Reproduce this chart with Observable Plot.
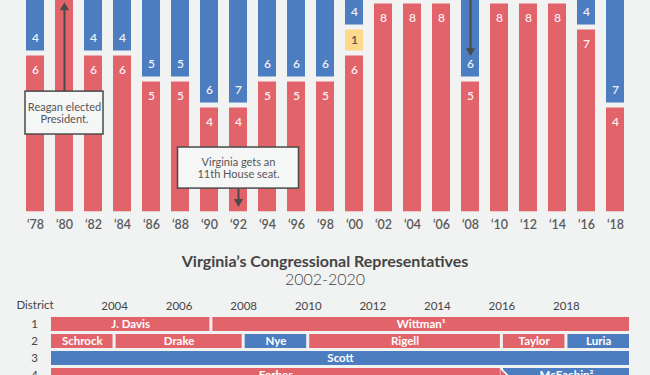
<!DOCTYPE html>
<html><head><meta charset="utf-8">
<script src="https://cdn.jsdelivr.net/npm/d3@7"></script>
<script src="https://cdn.jsdelivr.net/npm/@observablehq/plot@0.6"></script>
<style>
html,body{margin:0;padding:0;background:#f1f2f2;}
body{font-family:Lato,sans-serif;width:650px;height:375px;overflow:hidden;position:relative;}
#top{position:absolute;left:0;top:0;}
#title{position:absolute;left:0;width:650px;top:251px;text-align:center;font-weight:700;font-size:16px;color:#444;line-height:20px;}
#sub{position:absolute;left:0;width:650px;top:270px;text-align:center;font-weight:300;font-size:16px;color:#444;line-height:18px;}
#bottom{position:absolute;left:0;top:290px;}
</style></head><body>
<div id="top"></div>
<div id="title">Virginia’s Congressional Representatives</div>
<div id="sub">2002-2020</div>
<div id="bottom"></div>
<script>
// ---- Top chart: House delegation by election year ----
const electionYears = ["‘78","‘80","‘82","‘84","‘86","‘88","‘90","‘92","‘94","‘96","‘98","‘00","‘02","‘04","‘06","‘08","‘10","‘12","‘14","‘16","‘18"];
const republicanSeats = [6,9,6,6,5,5,4,4,5,5,5,6,8,8,8,5,8,8,8,7,4];
const independentSeats = [0,0,0,0,0,0,0,0,0,0,0,1,0,0,0,0,0,0,0,0,0];
const democratSeats = [4,1,4,4,5,5,6,7,6,6,6,4,3,3,3,6,3,3,3,4,7];

// annotations
const noteYears = ["‘80","‘92"];
const noteTexts = ["Reagan elected\nPresident.","Virginia gets an\n11th House seat."];
const noteBoxLow = [2.98, 0.90];
const noteBoxHigh = [4.63, 2.48];
const noteHalfWidth = [39, 60.5];
const arrowYears = ["‘80","‘92","‘08"];
const arrowFrom = [4.63, 0.90, 8.4];
const arrowTo = [8.06, 0.20, 6.0];
const arrowDir = ["up","down","down"];

// ---- Bottom chart: representatives 2002-2020 ----
const districtNames = ["1","2","3","4"];
const repNames = ["J. Davis","Wittman¹","Schrock","Drake","Nye","Rigell","Taylor","Luria","Scott","Forbes","McEachin²"];
const repDistrict = ["1","1","2","2","2","2","2","2","3","4","4"];
const repParty = ["R","R","R","R","D","R","R","D","D","R","D"];
const repStart = [2002,2007,2002,2004,2008,2010,2016,2018,2002,2002,2016];
const repEnd = [2007,2020,2004,2008,2010,2016,2018,2020,2020,2016,2020];
const redistrictedReps = ["Forbes"];
const tickYears = [2004,2006,2008,2010,2012,2014,2016,2018];

const RED = "#e3636b", BLUE = "#4c7dc0", YELLOW = "#fcd98b";
const partyColor = {R: RED, D: BLUE, I: YELLOW};
const Y_TOP = 211.5 / 26;

// build stacked segments
const segs = [];
electionYears.forEach((yr, i) => {
  const r = republicanSeats[i], ind = independentSeats[i], d = democratSeats[i];
  segs.push({yr, party: "R", y1: 0, y2: r, n: r});
  if (ind > 0) segs.push({yr, party: "I", y1: r, y2: r + ind, n: ind});
  if (d > 0) segs.push({yr, party: "D", y1: r + ind, y2: r + ind + d, n: d});
});
const notes = noteYears.map((yr, i) => ({yr, text: noteTexts[i], lo: noteBoxLow[i], hi: noteBoxHigh[i], hw: noteHalfWidth[i]}));
const arrows = arrowYears.map((yr, i) => ({yr, from: arrowFrom[i], to: arrowTo[i], dir: arrowDir[i]}));

const labelStyle = {fill: "white", fillOpacity: 0.92, fontSize: 12, fontWeight: 600};
const topPlot = Plot.plot({
  width: 650, height: 240,
  marginTop: 0, marginBottom: 28.5, marginLeft: 11.4, marginRight: 12,
  style: {background: "transparent", fontFamily: "Lato, sans-serif"},
  x: {domain: electionYears, padding: 0.386, label: null},
  y: {domain: [0, Y_TOP], axis: null},
  marks: [
    Plot.barY(segs.filter(d => d.party === "R"), {x: "yr", y1: "y1", y2: "y2", fill: RED, clip: true}),
    Plot.barY(segs.filter(d => d.party !== "R"), {x: "yr", y1: "y1", y2: "y2", fill: d => partyColor[d.party], insetBottom: 5, clip: true}),
    // only labels whose segment edge is inside the visible frame
    Plot.text(segs.filter(d => d.party === "R" && d.y2 <= Y_TOP - 0.1), {x: "yr", y: "y2", text: "n", dy: 14.5, ...labelStyle}),
    Plot.text(segs.filter(d => d.party === "D" && d.y1 <= Y_TOP - 0.9), {x: "yr", y: "y1", text: "n", dy: -17.5, ...labelStyle}),
    Plot.text(segs.filter(d => d.party === "I"), {x: "yr", y: d => (d.y1 + d.y2) / 2, text: "n", dy: -2.5, fill: "#555", fontSize: 12, fontWeight: 600}),
    Plot.axisX({anchor: "bottom", tickSize: 0, tickPadding: 8.3, fontSize: 12.5, fontWeight: 600, color: "#5a5a5a", label: null}),
    // arrows
    Plot.link(arrows, {x: "yr", y1: "from", y2: d => d.to + (d.dir === "up" ? -5 / 26 : 5 / 26), stroke: "#4a4a4a", strokeWidth: 2, clip: true}),
    Plot.dot(arrows.filter(d => d.dir === "up"), {x: "yr", y: "to", symbol: "triangle", r: 3.4, fill: "#4a4a4a", dy: 5.2}),
    Plot.dot(arrows.filter(d => d.dir === "down"), {x: "yr", y: "to", symbol: "triangle", r: 3.4, fill: "#4a4a4a", dy: -5.2, rotate: 180}),
    // note boxes (one mark per note so each gets its own width)
    ...notes.map(n => Plot.barY([n], {x: "yr", y1: "lo", y2: "hi", fill: "#f5f6f6", stroke: "#4a4a4a", strokeWidth: 1.5,
      insetLeft: 9 - n.hw, insetRight: 9 - n.hw})),
    Plot.text(notes, {x: "yr", y: d => (d.lo + d.hi) / 2, text: "text", fontSize: 11, lineHeight: 1.12, fill: "#555"})
  ]
});
document.getElementById("top").appendChild(topPlot);

// ---- bottom ----
const reps = repNames.map((name, i) => ({name, district: repDistrict[i], party: repParty[i], start: repStart[i], end: repEnd[i]}));
const chevron = {draw(ctx) { ctx.moveTo(-1.5, -7.4); ctx.lineTo(6, 0); ctx.lineTo(-1.5, 7.4); }};
const botPlot = Plot.plot({
  width: 650, height: 93,
  marginTop: 26, marginBottom: 0, marginLeft: 49.5, marginRight: 19.5,
  style: {background: "transparent", fontFamily: "Lato, sans-serif"},
  x: {domain: [2002, 2020], label: null},
  y: {type: "band", domain: districtNames, paddingInner: 0.155, paddingOuter: 0, label: null},
  marks: [
    Plot.barX(reps, {x1: "start", x2: "end", y: "district", fill: d => partyColor[d.party], insetLeft: 1.5, insetRight: 1.5}),
    Plot.dot(reps.filter(d => redistrictedReps.includes(d.name)), {x: "end", y: "district", symbol: chevron, fill: d => partyColor[d.party], stroke: "white", strokeWidth: 1.5}),
    Plot.text(reps, {x: d => (d.start + d.end) / 2, y: "district", text: "name", fill: "white", fontSize: 11.5, fontWeight: 700}),
    Plot.axisX({anchor: "top", ticks: tickYears, tickFormat: d => String(d), tickSize: 0, tickPadding: 7, fontSize: 11.5, color: "#444", label: null}),
    Plot.axisY({anchor: "left", tickSize: 0, tickPadding: 12, fontSize: 11.5, color: "#444", label: null}),
    Plot.text(["District"], {frameAnchor: "top-left", dx: -15, dy: -15.5, text: d => d, fontSize: 11.5, fill: "#444", textAnchor: "middle"})
  ]
});
document.getElementById("bottom").appendChild(botPlot);
</script>
</body></html>
